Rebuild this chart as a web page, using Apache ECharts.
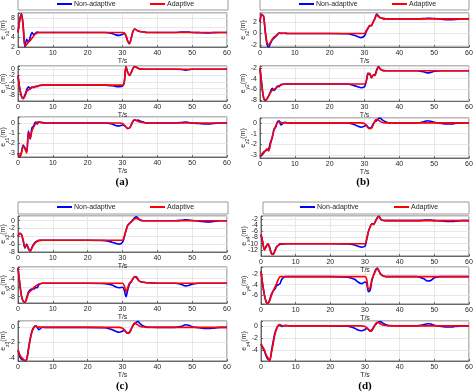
<!DOCTYPE html>
<html><head><meta charset="utf-8">
<script src="https://cdn.jsdelivr.net/npm/echarts@6/dist/echarts.min.js"></script>
<style>html,body{margin:0;padding:0;background:#fff}#c{width:474px;height:392px}</style>
</head><body><div id="c"></div>
<script>
// time samples (s)
const T = [0,0.5,1,1.5,2,2.5,3,3.5,4,4.5,5,5.5,6,7,8,10, 20,25,27,28,29,30, 30.5,31,31.5,32,32.5,33,33.5,34,34.5,35,36,37, 40,45,47,48,49,50,52,54,55,56,58,60];
const xTicks = [0,10,20,30,40,50,60];
const legendNames = ['Non-adaptive','Adaptive'];

// (a)
const ex1_ada = [5.0,7.5,8.8,6.0,2.2,2.5,3.0,3.3,3.8,4.3,4.7,4.9,5.0,5.0,5.0,5.0, 5.0,5.0,5.0,5.0,5.0,5.0, 4.9,4.3,3.2,2.7,3.8,5.2,5.7,5.5,5.3,5.2,5.1,5.0, 5.0,5.0,5.0,5.0,5.0,5.0,5.0,5.0,5.0,5.0,5.0,5.0];
const ex1_non = [5.0,7.6,8.9,6.2,2.0,3.6,3.0,4.0,5.0,4.6,4.8,5.1,5.0,5.0,5.0,5.0, 5.0,5.0,4.8,4.5,4.4,4.6, 4.8,4.3,3.2,2.7,3.8,5.2,5.7,5.5,5.3,5.2,5.1,5.0, 5.0,5.0,5.1,5.1,5.1,5.0,4.95,4.9,4.9,4.95,5.0,5.0];
const ey1_ada = [-2,-6,-8.5,-9.2,-8.5,-7,-6.5,-6.2,-5.8,-5.6,-5.5,-5.3,-5.2,-5.0,-5.0,-5.0, -5,-5,-5,-5,-5,-5, -4,0.8,-1.0,-2.0,-1.0,0.2,0.8,0.6,0.3,0.1,0,0, 0,0,0,0,0,0,0,0,0,0,0,0];
const ey1_non = [-2,-6,-8.5,-9.3,-8.0,-6.5,-5.5,-6.2,-5.6,-5.8,-5.4,-5.5,-5.1,-5.0,-5.0,-5.0, -5,-5,-5.2,-5.4,-5.5,-5.3, -4.2,0.8,-1.0,-2.0,-1.0,0.2,0.8,0.6,0.3,0.1,0,0, 0,0,-0.1,-0.3,-0.2,0,0,0,0,0,0,0];
const ez1_ada = [-3.0,-3.4,-3.0,-2.3,-2.6,-3.0,-1.0,-1.5,-0.8,-0.4,-0.1,0.1,0.1,0,0,0, 0,0,0,0,0,-0.05, -0.2,-0.4,-0.55,-0.5,-0.2,0.2,0.35,0.25,0.15,0.1,0.05,0, 0,0,0,0,0,0,0,0,0,0,0,0];
const ez1_non = [-3.0,-3.4,-2.9,-2.2,-2.5,-2.9,-0.8,-1.6,-0.5,-0.3,0.1,-0.1,0.1,0.05,0,0, 0,0,-0.1,-0.25,-0.3,-0.2, -0.25,-0.4,-0.55,-0.5,-0.2,0.15,0.3,0.25,0.3,0.2,0.1,0, 0,0,0.05,0.1,0.05,0,-0.05,-0.1,-0.1,-0.05,0,0];
// (b)
const ex2_ada = [2.0,3.2,3.0,0.5,-1.5,-1.9,-1.5,-1.0,-0.6,-0.4,-0.1,0.1,0,0.05,0,0, 0,0,0,0,0,0, 0.5,0.9,1.4,1.3,2.0,2.5,3.2,2.9,2.7,2.6,2.5,2.5, 2.5,2.5,2.5,2.5,2.5,2.5,2.5,2.5,2.5,2.5,2.5,2.5];
const ex2_non = [2.0,3.2,3.0,0.3,-1.8,-2.3,-1.7,-1.1,-0.8,-0.5,-0.2,0.1,0.05,0.05,0,0, 0,-0.05,-0.3,-0.5,-0.7,-0.4, 0.3,0.9,1.3,1.4,2.0,2.6,3.3,3.0,2.7,2.6,2.5,2.5, 2.5,2.5,2.55,2.6,2.6,2.55,2.45,2.35,2.35,2.4,2.5,2.5];
const ey2_ada = [-2.0,-5,-7.5,-8.0,-7.8,-7.3,-6.6,-6.2,-6.0,-5.8,-5.5,-5.3,-5.2,-5.0,-5,-5, -5,-5,-5,-5,-5,-5, -4.5,-3.2,-3.0,-3.8,-3.3,-3.4,-2.5,-1.8,-2.2,-2.4,-2.5,-2.5, -2.5,-2.5,-2.5,-2.5,-2.5,-2.5,-2.5,-2.5,-2.5,-2.5,-2.5,-2.5];
const ey2_non = [-2.0,-5,-7.5,-8.1,-7.8,-7.2,-6.5,-5.8,-6.2,-5.9,-5.4,-5.5,-5.1,-5.0,-5,-5, -5,-5,-5.3,-5.5,-5.7,-5.5, -4.5,-3.0,-3.1,-3.8,-3.3,-3.2,-2.3,-1.7,-2.1,-2.4,-2.5,-2.5, -2.5,-2.5,-2.7,-2.9,-2.8,-2.6,-2.5,-2.5,-2.5,-2.5,-2.5,-2.5];
const ez2_ada = [-3.1,-2.9,-2.7,-2.6,-2.4,-2.6,-2.0,-1.3,-0.7,-0.3,0,0.1,0.05,0,0,0, 0,0,0,0,0,-0.05, -0.2,-0.45,-0.55,-0.5,-0.2,0.2,0.3,0.25,0.15,0.05,0,0, 0,0,0,0,0,0,0,0,0,0,0,0];
const ez2_non = [-3.1,-3.0,-2.8,-2.6,-2.5,-2.4,-1.8,-1.4,-0.6,-0.4,0.1,0.2,-0.2,0.05,0,0, 0,0,-0.15,-0.3,-0.4,-0.3, -0.2,-0.4,-0.5,-0.4,-0.1,0.1,0.2,0.4,0.45,0.3,0.1,0, 0,0,0.1,0.2,0.15,0.05,-0.05,-0.1,-0.1,-0.05,0,0];
// (c)
const ex3_ada = [-4.0,-3.2,-3.5,-5.0,-6.8,-6.2,-7.0,-7.8,-7.0,-6.2,-5.6,-5.3,-5.1,-5.0,-5,-5, -5,-5,-5,-5,-5,-5, -4.0,-2.5,-1.2,-0.7,-0.3,0.1,0.5,0.6,0.4,0.2,0,0, 0,0,0,0,0,0,0,0,0,0,0,0];
const ex3_non = [-4.0,-3.2,-3.6,-5.2,-7.0,-6.0,-7.2,-7.8,-6.8,-6.0,-5.5,-5.2,-5.0,-5.0,-5,-5, -5,-5.1,-5.5,-5.8,-6.0,-5.5, -4.2,-2.5,-1.2,-0.7,-0.3,0.3,0.8,1.0,0.6,0.2,0,0, 0,0,0.1,0.2,0.15,0.05,-0.1,-0.3,-0.3,-0.2,0,0];
const ey3_ada = [-1.6,-5,-7.8,-9.0,-9.2,-8.5,-7.2,-6.8,-6.5,-6.0,-5.7,-5.4,-5.2,-5.0,-5,-5, -5,-5,-5,-5,-5,-5, -5.5,-6.9,-6.0,-5.0,-4.6,-4.0,-3.6,-3.8,-4.3,-4.6,-4.8,-4.9, -5,-5,-5,-5,-5,-5,-5,-5,-5,-5,-5,-5];
const ey3_non = [-1.6,-5,-7.8,-9.0,-9.2,-8.2,-7.0,-6.5,-6.3,-6.3,-6.0,-6.0,-5.3,-5.0,-5,-5, -5,-5.1,-5.4,-5.8,-6.0,-5.9, -6.5,-8.0,-6.5,-5.2,-4.7,-4.0,-3.5,-3.6,-4.2,-4.6,-4.8,-4.9, -5,-5,-5.3,-5.6,-5.5,-5.2,-5,-5,-5,-5,-5,-5];
const ez3_ada = [-3.0,-3.6,-4.0,-4.2,-4.4,-4.3,-3.0,-1.6,-0.6,-0.1,0.2,0.1,0.05,0,0,0, 0,0,0,0,0,-0.1, -0.3,-0.6,-0.8,-0.7,-0.3,0.3,0.6,0.45,0.3,0.15,0.05,0, 0,0,0,0,0,0,0,0,0,0,0,0];
const ez3_non = [-3.0,-3.8,-4.2,-4.3,-4.4,-4.2,-2.8,-1.5,-0.5,0,0.2,0,-0.3,0.05,0,0, 0,-0.05,-0.3,-0.5,-0.65,-0.5, -0.35,-0.6,-0.75,-0.6,-0.2,0.2,0.5,0.7,0.8,0.5,0.2,0.05, 0,0,0.15,0.35,0.3,0.1,-0.05,-0.15,-0.15,-0.1,0,0];
// (d)
const ex4_ada = [-7.0,-9.5,-12.0,-11.0,-10.0,-11.5,-13.3,-13.5,-12.5,-11.2,-10.5,-10.2,-10.0,-10,-10,-10, -10,-10,-10,-10,-10,-10, -8.5,-6.0,-4.5,-3.5,-3.8,-2.8,-1.8,-1.2,-2.0,-2.4,-2.5,-2.5, -2.5,-2.5,-2.5,-2.5,-2.5,-2.5,-2.5,-2.5,-2.5,-2.5,-2.5,-2.5];
const ex4_non = [-7.0,-9.5,-12.0,-10.8,-10.0,-11.2,-13.0,-13.5,-12.2,-11.0,-10.5,-10.0,-10.2,-10,-10,-10, -10,-10.1,-10.4,-10.8,-11.1,-10.8, -8.5,-6.0,-4.5,-3.5,-3.6,-2.7,-1.6,-1.0,-2.0,-2.4,-2.5,-2.5, -2.5,-2.5,-2.4,-2.3,-2.35,-2.5,-2.6,-2.8,-2.8,-2.7,-2.5,-2.5];
const ey4_ada = [-1.5,-4.0,-6.0,-7.2,-7.5,-7.0,-6.0,-5.2,-4.5,-3.8,-3.0,-2.5,-2.5,-2.5,-2.5,-2.5, -2.5,-2.5,-2.5,-2.5,-2.5,-2.5, -3.0,-4.9,-4.5,-3.0,-2.2,-1.5,-1.0,-1.4,-2.0,-2.3,-2.5,-2.5, -2.5,-2.5,-2.5,-2.5,-2.5,-2.5,-2.5,-2.5,-2.5,-2.5,-2.5,-2.5];
const ey4_non = [-1.5,-4.0,-6.0,-7.2,-7.5,-6.8,-5.8,-5.2,-4.8,-4.2,-4.0,-3.8,-3.0,-2.5,-2.5,-2.5, -2.5,-2.6,-3.0,-3.5,-3.8,-3.5, -3.8,-5.3,-5.0,-3.2,-2.2,-1.3,-0.9,-1.4,-2.0,-2.3,-2.5,-2.5, -2.5,-2.5,-2.9,-3.3,-3.2,-2.7,-2.5,-2.5,-2.5,-2.5,-2.5,-2.5];
const ez4_ada = [-3.0,-3.5,-4.0,-4.8,-5.3,-5.8,-4.5,-3.0,-1.5,-0.5,0.1,0.2,0.05,0,0,0, 0,0,0,0,0,-0.1, -0.3,-0.6,-0.9,-0.8,-0.3,0.3,0.6,0.5,0.3,0.15,0.05,0, 0,0,0,0,0,0,0,0,0,0,0,0];
const ez4_non = [-3.0,-3.6,-4.2,-5.0,-5.5,-5.6,-4.2,-2.6,-1.2,-0.4,0,0.1,-0.1,0.1,0,0, 0,-0.05,-0.4,-0.7,-0.8,-0.6, -0.4,-0.6,-0.8,-0.6,-0.2,0.2,0.5,0.65,0.7,0.5,0.2,0.05, 0,0,0.2,0.35,0.3,0.1,-0.1,-0.2,-0.2,-0.1,0,0];

// subplot definitions: data refs + axis ranges
const subplots = [
  {sub:'x1', non:ex1_non, ada:ex1_ada, ymin:2,     ymax:9,    step:2},
  {sub:'y1', non:ey1_non, ada:ey1_ada, ymin:-10,   ymax:1,    step:2},
  {sub:'z1', non:ez1_non, ada:ez1_ada, ymin:-3.4,  ymax:0.6,  step:1},
  {sub:'x2', non:ex2_non, ada:ex2_ada, ymin:-2.3,  ymax:3.5,  step:2},
  {sub:'y2', non:ey2_non, ada:ey2_ada, ymin:-8.2,  ymax:-1.6, step:2},
  {sub:'z2', non:ez2_non, ada:ez2_ada, ymin:-3.25, ymax:0.45, step:1},
  {sub:'x3', non:ex3_non, ada:ex3_ada, ymin:-8,    ymax:1.2,  step:2},
  {sub:'y3', non:ey3_non, ada:ey3_ada, ymin:-9.4,  ymax:-1.4, step:2},
  {sub:'z3', non:ez3_non, ada:ez3_ada, ymin:-4.45, ymax:0.85, step:2},
  {sub:'x4', non:ex4_non, ada:ex4_ada, ymin:-14,   ymax:-1,   step:2},
  {sub:'y4', non:ey4_non, ada:ey4_ada, ymin:-7.6,  ymax:-0.7, step:2},
  {sub:'z4', non:ez4_non, ada:ez4_ada, ymin:-5.8,  ymax:0.8,  step:2}
];
// layout (pixels): left, top, width, height, y-name gap
const layout = [
  [18,13,209,34,8],[18,66,209,35,8],[18,117,209,40,8],
  [260,13,209,34,10],[260,66,209,35,10],[260,118,209,40,10],
  [18,216,209,36,8],[18,267,209,36,8],[18,321,209,40,8],
  [261,216,208,40,10],[261,267,208,37,10],[261,321,208,40,10]
];

const FONT = "'Liberation Sans', Arial, sans-serif";
const AX = '#4d4d4d', TXT = '#262626', GRIDC = '#e2e2e2';
const isMult = (v, s) => Math.abs(v / s - Math.round(v / s)) < 1e-6;

const grids = [], xAxes = [], yAxes = [], series = [];
subplots.forEach((p, i) => {
  const [l, t, w, h, ng] = layout[i];
  grids.push({left:l, top:t, width:w, height:h, show:true, borderColor:AX, borderWidth:0.8, outerBoundsMode:'none', containLabel:false});
  xAxes.push({
    gridIndex:i, type:'value', min:xTicks[0], max:xTicks[xTicks.length-1], interval:xTicks[1]-xTicks[0],
    name:'T/s', nameLocation:'middle', nameGap:11, nameMoveOverlap:false,
    nameTextStyle:{fontSize:7, color:TXT, fontFamily:FONT},
    axisLine:{onZero:false, lineStyle:{color:AX, width:0.8}},
    axisTick:{inside:true, length:2, lineStyle:{color:AX, width:0.8}},
    axisLabel:{fontSize:7, color:TXT, fontFamily:FONT, margin:3},
    splitLine:{show:true, lineStyle:{color:GRIDC, width:0.8}}
  });
  yAxes.push({
    gridIndex:i, type:'value', min:p.ymin, max:p.ymax,
    splitNumber:Math.max(1, Math.round((p.ymax - p.ymin) / p.step)),
    name:'{e|e}{s|' + p.sub + '}{e|(m)}', nameLocation:'middle', nameRotate:90, nameGap:ng, nameMoveOverlap:false,
    nameTextStyle:{fontSize:7, color:TXT, fontFamily:FONT,
      rich:{e:{fontSize:7, color:TXT, fontFamily:FONT, lineHeight:10, verticalAlign:'top'},
            s:{fontSize:5, color:TXT, fontFamily:FONT, lineHeight:10, verticalAlign:'bottom'}}},
    axisLine:{onZero:false, lineStyle:{color:AX, width:0.8}},
    axisTick:{inside:true, length:2, lineStyle:{color:AX, width:0.8}},
    axisLabel:{fontSize:7, color:TXT, fontFamily:FONT, margin:3,
      formatter:(v) => isMult(v, p.step) ? String(Math.round(v)) : ''},
    splitLine:{show:true, lineStyle:{color:GRIDC, width:0.8}}
  });
  series.push({name:legendNames[0], type:'line', xAxisIndex:i, yAxisIndex:i,
    data:T.map((x, k) => [x, p.non[k]]), showSymbol:false, smooth:0.3,
    lineStyle:{color:'#0000ff', width:1.6}, itemStyle:{color:'#0000ff'}, z:2});
  series.push({name:legendNames[1], type:'line', xAxisIndex:i, yAxisIndex:i,
    data:T.map((x, k) => [x, p.ada[k]]), showSymbol:false, smooth:0.3,
    lineStyle:{color:'#ff0000', width:1.6}, itemStyle:{color:'#ff0000'}, z:3});
});

// legends: [name index, left, centerY]
const legendPos = [[0,57,5],[1,150,5],[0,299,5],[1,392,5],[0,57,208],[1,150,208],[0,300,208],[1,394,208]];
const legends = legendPos.map(([n, l, cy]) => ({
  data:[legendNames[n]], left:l, top:cy - 4.5, padding:0, icon:'rect', itemWidth:15, itemHeight:2,
  selectedMode:false, textStyle:{fontSize:7, color:TXT, fontFamily:FONT, padding:[0,0,0,-3]}
}));

const boxes = [[18,-1,210,11],[260,-1,209,11],[18,202,210,12],[263,202,206,12]];
const panelLabels = [['(a)',122,182],['(b)',363,182],['(c)',122,386],['(d)',365,386]];
const graphic = [
  ...boxes.map(([x,y,w,h]) => ({type:'rect', shape:{x, y, width:w, height:h}, style:{fill:'#fff', stroke:'#9a9a9a', lineWidth:1}, z:0})),
  ...panelLabels.map(([s,x,y]) => ({type:'text', x, y, style:{text:s, fill:'#000', font:"bold 11px 'Liberation Serif', 'Times New Roman', serif", textAlign:'center', textVerticalAlign:'middle'}, z:5}))
];

const chart = echarts.init(document.getElementById('c'), null, {renderer:'canvas'});
chart.setOption({animation:false, backgroundColor:'#fff', grid:grids, xAxis:xAxes, yAxis:yAxes, series, legend:legends, graphic});
</script></body></html>
